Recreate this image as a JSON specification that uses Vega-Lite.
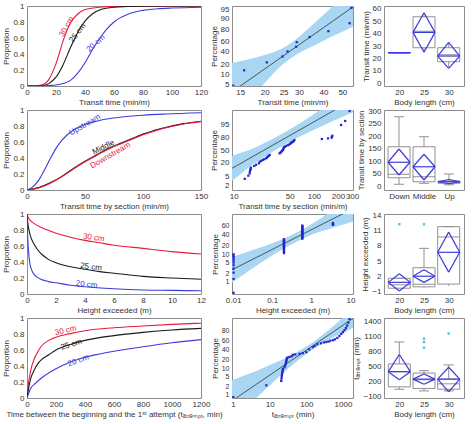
{
"$schema":"https://vega.github.io/schema/vega-lite/v6.json",
"padding":{"left":2,"top":1,"right":0,"bottom":0},
"columns":3,
"spacing":{"row":24,"column":31},
"bounds":"flush",
"config":{
 "font":"Liberation Sans",
 "view":{"stroke":"#8c8c8c","strokeWidth":1},
 "axis":{"grid":false,"domain":false,"ticks":false,"tickCount":20,"labelFontSize":8,"titleFontSize":8,"labelColor":"#333","titleColor":"#333","titleFontWeight":"normal","labelPadding":2,"titlePadding":2,"labelOverlap":false,"labelFlush":false,"labelBound":false},
 "axisX":{"labelPadding":2},
 "axisY":{"labelPadding":3}
},
"datasets":{
 "c1":[
  {"t":0,"p":0,"s":"30 cm"},{"t":5,"p":0.001,"s":"30 cm"},{"t":10,"p":0.012,"s":"30 cm"},{"t":15,"p":0.08,"s":"30 cm"},{"t":20,"p":0.28,"s":"30 cm"},{"t":25,"p":0.57,"s":"30 cm"},{"t":30,"p":0.79,"s":"30 cm"},{"t":35,"p":0.9,"s":"30 cm"},{"t":40,"p":0.955,"s":"30 cm"},{"t":50,"p":0.985,"s":"30 cm"},{"t":60,"p":0.995,"s":"30 cm"},{"t":80,"p":0.999,"s":"30 cm"},{"t":120,"p":1,"s":"30 cm"},
  {"t":0,"p":0,"s":"25 cm"},{"t":10,"p":0.003,"s":"25 cm"},{"t":15,"p":0.03,"s":"25 cm"},{"t":20,"p":0.11,"s":"25 cm"},{"t":25,"p":0.27,"s":"25 cm"},{"t":30,"p":0.48,"s":"25 cm"},{"t":35,"p":0.67,"s":"25 cm"},{"t":40,"p":0.81,"s":"25 cm"},{"t":45,"p":0.9,"s":"25 cm"},{"t":50,"p":0.95,"s":"25 cm"},{"t":60,"p":0.985,"s":"25 cm"},{"t":80,"p":0.998,"s":"25 cm"},{"t":120,"p":1,"s":"25 cm"},
  {"t":0,"p":0,"s":"20 cm"},{"t":10,"p":0.002,"s":"20 cm"},{"t":20,"p":0.012,"s":"20 cm"},{"t":25,"p":0.03,"s":"20 cm"},{"t":30,"p":0.07,"s":"20 cm"},{"t":35,"p":0.16,"s":"20 cm"},{"t":40,"p":0.29,"s":"20 cm"},{"t":45,"p":0.45,"s":"20 cm"},{"t":50,"p":0.59,"s":"20 cm"},{"t":55,"p":0.71,"s":"20 cm"},{"t":60,"p":0.8,"s":"20 cm"},{"t":70,"p":0.9,"s":"20 cm"},{"t":80,"p":0.945,"s":"20 cm"},{"t":90,"p":0.965,"s":"20 cm"},{"t":100,"p":0.975,"s":"20 cm"},{"t":120,"p":0.985,"s":"20 cm"}
 ],
 "l1":[{"t":27.5,"p":0.74,"s":"30 cm"},{"t":35,"p":0.66,"s":"25 cm"},{"t":47.6,"p":0.53,"s":"20 cm"}],
 "c2":[
  {"t":0,"p":0,"s":"Upstream"},{"t":5,"p":0.04,"s":"Upstream"},{"t":10,"p":0.12,"s":"Upstream"},{"t":15,"p":0.25,"s":"Upstream"},{"t":20,"p":0.39,"s":"Upstream"},{"t":25,"p":0.52,"s":"Upstream"},{"t":30,"p":0.62,"s":"Upstream"},{"t":40,"p":0.75,"s":"Upstream"},{"t":50,"p":0.82,"s":"Upstream"},{"t":60,"p":0.86,"s":"Upstream"},{"t":70,"p":0.89,"s":"Upstream"},{"t":80,"p":0.91,"s":"Upstream"},{"t":100,"p":0.935,"s":"Upstream"},{"t":120,"p":0.95,"s":"Upstream"},{"t":150,"p":0.965,"s":"Upstream"},
  {"t":0,"p":0,"s":"Middle"},{"t":10,"p":0.03,"s":"Middle"},{"t":20,"p":0.09,"s":"Middle"},{"t":30,"p":0.17,"s":"Middle"},{"t":40,"p":0.27,"s":"Middle"},{"t":50,"p":0.36,"s":"Middle"},{"t":60,"p":0.44,"s":"Middle"},{"t":70,"p":0.52,"s":"Middle"},{"t":80,"p":0.58,"s":"Middle"},{"t":90,"p":0.64,"s":"Middle"},{"t":100,"p":0.7,"s":"Middle"},{"t":110,"p":0.745,"s":"Middle"},{"t":120,"p":0.785,"s":"Middle"},{"t":135,"p":0.83,"s":"Middle"},{"t":150,"p":0.86,"s":"Middle"},
  {"t":0,"p":0,"s":"Downstream"},{"t":10,"p":0.025,"s":"Downstream"},{"t":20,"p":0.085,"s":"Downstream"},{"t":30,"p":0.165,"s":"Downstream"},{"t":40,"p":0.262,"s":"Downstream"},{"t":50,"p":0.352,"s":"Downstream"},{"t":60,"p":0.432,"s":"Downstream"},{"t":70,"p":0.51,"s":"Downstream"},{"t":80,"p":0.572,"s":"Downstream"},{"t":90,"p":0.632,"s":"Downstream"},{"t":100,"p":0.69,"s":"Downstream"},{"t":110,"p":0.738,"s":"Downstream"},{"t":120,"p":0.778,"s":"Downstream"},{"t":135,"p":0.825,"s":"Downstream"},{"t":150,"p":0.855,"s":"Downstream"}
 ],
 "l2":[{"t":50,"p":0.81,"s":"Upstream"},{"t":66,"p":0.53,"s":"Middle"},{"t":72,"p":0.43,"s":"Downstream"}],
 "c3":[
  {"t":0,"p":1,"s":"30 cm"},{"t":0.1,"p":0.95,"s":"30 cm"},{"t":0.5,"p":0.88,"s":"30 cm"},{"t":1,"p":0.83,"s":"30 cm"},{"t":2,"p":0.76,"s":"30 cm"},{"t":3,"p":0.71,"s":"30 cm"},{"t":4,"p":0.67,"s":"30 cm"},{"t":5,"p":0.64,"s":"30 cm"},{"t":6,"p":0.61,"s":"30 cm"},{"t":8,"p":0.57,"s":"30 cm"},{"t":10,"p":0.53,"s":"30 cm"},{"t":12,"p":0.5,"s":"30 cm"},
  {"t":0,"p":1,"s":"25 cm"},{"t":0.05,"p":0.9,"s":"25 cm"},{"t":0.2,"p":0.75,"s":"25 cm"},{"t":0.5,"p":0.62,"s":"25 cm"},{"t":1,"p":0.5,"s":"25 cm"},{"t":1.5,"p":0.43,"s":"25 cm"},{"t":2,"p":0.39,"s":"25 cm"},{"t":3,"p":0.34,"s":"25 cm"},{"t":4,"p":0.31,"s":"25 cm"},{"t":5,"p":0.28,"s":"25 cm"},{"t":6,"p":0.26,"s":"25 cm"},{"t":8,"p":0.22,"s":"25 cm"},{"t":10,"p":0.2,"s":"25 cm"},{"t":12,"p":0.185,"s":"25 cm"},
  {"t":0,"p":1,"s":"20 cm"},{"t":0.03,"p":0.8,"s":"20 cm"},{"t":0.1,"p":0.55,"s":"20 cm"},{"t":0.2,"p":0.38,"s":"20 cm"},{"t":0.4,"p":0.27,"s":"20 cm"},{"t":0.7,"p":0.21,"s":"20 cm"},{"t":1,"p":0.18,"s":"20 cm"},{"t":1.5,"p":0.155,"s":"20 cm"},{"t":2,"p":0.14,"s":"20 cm"},{"t":3,"p":0.11,"s":"20 cm"},{"t":4,"p":0.09,"s":"20 cm"},{"t":6,"p":0.065,"s":"20 cm"},{"t":8,"p":0.05,"s":"20 cm"},{"t":10,"p":0.045,"s":"20 cm"},{"t":12,"p":0.04,"s":"20 cm"}
 ],
 "l3":[{"t":4.6,"p":0.7,"s":"30 cm"},{"t":4.41,"p":0.335,"s":"25 cm"},{"t":4.11,"p":0.116,"s":"20 cm"}],
 "c4":[
  {"t":0,"p":0,"s":"30 cm"},{"t":10,"p":0.18,"s":"30 cm"},{"t":25,"p":0.34,"s":"30 cm"},{"t":50,"p":0.49,"s":"30 cm"},{"t":75,"p":0.58,"s":"30 cm"},{"t":100,"p":0.65,"s":"30 cm"},{"t":150,"p":0.72,"s":"30 cm"},{"t":200,"p":0.76,"s":"30 cm"},{"t":300,"p":0.805,"s":"30 cm"},{"t":400,"p":0.84,"s":"30 cm"},{"t":600,"p":0.878,"s":"30 cm"},{"t":800,"p":0.9,"s":"30 cm"},{"t":1000,"p":0.92,"s":"30 cm"},{"t":1200,"p":0.935,"s":"30 cm"},
  {"t":0,"p":0,"s":"25 cm"},{"t":10,"p":0.11,"s":"25 cm"},{"t":25,"p":0.24,"s":"25 cm"},{"t":50,"p":0.35,"s":"25 cm"},{"t":75,"p":0.43,"s":"25 cm"},{"t":100,"p":0.48,"s":"25 cm"},{"t":150,"p":0.54,"s":"25 cm"},{"t":200,"p":0.6,"s":"25 cm"},{"t":300,"p":0.67,"s":"25 cm"},{"t":400,"p":0.72,"s":"25 cm"},{"t":600,"p":0.78,"s":"25 cm"},{"t":800,"p":0.82,"s":"25 cm"},{"t":1000,"p":0.85,"s":"25 cm"},{"t":1200,"p":0.87,"s":"25 cm"},
  {"t":0,"p":0,"s":"20 cm"},{"t":10,"p":0.05,"s":"20 cm"},{"t":25,"p":0.12,"s":"20 cm"},{"t":50,"p":0.17,"s":"20 cm"},{"t":100,"p":0.25,"s":"20 cm"},{"t":200,"p":0.365,"s":"20 cm"},{"t":300,"p":0.45,"s":"20 cm"},{"t":400,"p":0.51,"s":"20 cm"},{"t":500,"p":0.55,"s":"20 cm"},{"t":600,"p":0.585,"s":"20 cm"},{"t":800,"p":0.64,"s":"20 cm"},{"t":1000,"p":0.69,"s":"20 cm"},{"t":1200,"p":0.73,"s":"20 cm"}
 ],
 "l4":[{"t":267,"p":0.84,"s":"30 cm"},{"t":306,"p":0.665,"s":"25 cm"},{"t":354,"p":0.464,"s":"20 cm"}],
 "band1":[{"x":13.6,"lo":0.3,"hi":21.9},{"x":15,"lo":0.65,"hi":24.4},{"x":17,"lo":1.71,"hi":27.9},{"x":20,"lo":5.5,"hi":34.5},{"x":23,"lo":13.7,"hi":41.6},{"x":26,"lo":24.6,"hi":52},{"x":29,"lo":34.8,"hi":64.8},{"x":33,"lo":46,"hi":79.3},{"x":38,"lo":57.4,"hi":90},{"x":44,"lo":68.6,"hi":95.6},{"x":50,"lo":76.5,"hi":98},{"x":56.7,"lo":82.8,"hi":99.07}],
 "fit1":[{"x":13.6,"p":2.82},{"x":56.7,"p":95.8}],
 "pts1":[{"x":13.8,"p":4.5},{"x":15.7,"p":13.6},{"x":20.5,"p":22.7},{"x":24.7,"p":31.8},{"x":26.2,"p":40.9},{"x":29.0,"p":50},{"x":29.2,"p":59.1},{"x":34.0,"p":68.2},{"x":42.4,"p":77.3},{"x":54.5,"p":86.4},{"x":55.6,"p":95.5}],
 "band2":[{"x":9.5,"lo":3.2,"hi":35},{"x":12,"lo":6.3,"hi":42.6},{"x":15,"lo":11.8,"hi":49.7},{"x":20,"lo":22.6,"hi":61.5},{"x":30,"lo":45,"hi":77.6},{"x":45,"lo":67.3,"hi":89.3},{"x":70,"lo":83.8,"hi":95.9},{"x":110,"lo":92.3,"hi":98.65},{"x":170,"lo":96.3,"hi":99.57},{"x":250,"lo":98.04,"hi":99.85},{"x":308,"lo":98.62,"hi":99.915}],
 "fit2":[{"x":9.5,"p":11.7},{"x":308,"p":99.66}],
 "pts2":[{"x":13.7,"p":3.9},{"x":15.2,"p":5.5},{"x":15.8,"p":7},{"x":15.9,"p":8.5},{"x":16.1,"p":9.9},{"x":16.2,"p":11.2},{"x":16.4,"p":12.5},{"x":18,"p":14.7},{"x":19,"p":16.5},{"x":20.6,"p":18.9},{"x":21.1,"p":21.8},{"x":22,"p":23.5},{"x":23,"p":25.2},{"x":24,"p":27},{"x":25.3,"p":28.9},{"x":26,"p":31},{"x":26.6,"p":32.8},{"x":27.3,"p":35},{"x":28.1,"p":37.1},{"x":37.3,"p":41.6},{"x":38.2,"p":43.5},{"x":39.2,"p":46},{"x":40,"p":48.5},{"x":41,"p":50.8},{"x":41.5,"p":53},{"x":42,"p":57.2},{"x":42.6,"p":58.5},{"x":43.2,"p":59.9},{"x":45,"p":62},{"x":47.5,"p":64},{"x":49.6,"p":66.1},{"x":50.8,"p":68},{"x":52,"p":70},{"x":53.3,"p":71.2},{"x":54.7,"p":72.4},{"x":56,"p":74},{"x":57.2,"p":76},{"x":125.8,"p":78},{"x":150,"p":79.2},{"x":167,"p":80.4},{"x":168,"p":82},{"x":170,"p":83.7},{"x":219,"p":94.5},{"x":246,"p":96.4},{"x":279,"p":98.8}],
 "band3":[{"x":0.0094,"lo":0.88,"hi":8.1},{"x":0.02,"lo":1.89,"hi":11.4},{"x":0.05,"lo":4.8,"hi":16.9},{"x":0.1,"lo":9,"hi":23},{"x":0.2,"lo":15.7,"hi":31.4},{"x":0.4,"lo":24.6,"hi":43},{"x":0.8,"lo":35.2,"hi":57.2},{"x":1.5,"lo":44.3,"hi":70.5},{"x":3,"lo":52.5,"hi":83.2},{"x":6,"lo":60.6,"hi":91.1},{"x":11.6,"lo":67.7,"hi":95.4}],
 "fit3":[{"x":0.0094,"p":2.71},{"x":11.6,"p":86.9}],
 "pts3":[{"x":0.0103,"p":0.35},{"x":0.0103,"p":1.2},{"x":0.0103,"p":2.1},{"x":0.0103,"p":3},{"x":0.0103,"p":4},{"x":0.0103,"p":5},{"x":0.0103,"p":6},{"x":0.0103,"p":7},{"x":0.0103,"p":8},{"x":0.0103,"p":9},{"x":0.0103,"p":10},
  {"x":0.2,"p":11},{"x":0.2,"p":12},{"x":0.2,"p":13},{"x":0.2,"p":14},{"x":0.2,"p":15},{"x":0.2,"p":16},{"x":0.2,"p":17},{"x":0.2,"p":18},{"x":0.2,"p":19},{"x":0.2,"p":20},{"x":0.2,"p":21},{"x":0.2,"p":22},{"x":0.2,"p":23},{"x":0.2,"p":24},{"x":0.2,"p":25},{"x":0.2,"p":26},{"x":0.2,"p":27},{"x":0.2,"p":28},{"x":0.2,"p":29},{"x":0.2,"p":30},
  {"x":0.587,"p":31},{"x":0.587,"p":32.5},{"x":0.587,"p":34},{"x":0.587,"p":35.5},{"x":0.587,"p":37},{"x":0.587,"p":38.5},{"x":0.587,"p":40},{"x":0.587,"p":41.5},{"x":0.587,"p":43},{"x":0.587,"p":44.5},{"x":0.587,"p":46},{"x":0.587,"p":47.5},{"x":0.587,"p":49},{"x":0.587,"p":50.5},{"x":0.587,"p":52},{"x":0.587,"p":53.5},{"x":0.587,"p":55},{"x":0.587,"p":56.5},{"x":0.587,"p":58},{"x":0.587,"p":59.5},
  {"x":3.57,"p":61},{"x":3.57,"p":62},{"x":3.57,"p":63},{"x":3.57,"p":64},{"x":3.57,"p":65}],
 "band4":[{"x":0.94,"lo":0.08,"hi":3.6},{"x":2,"lo":0.24,"hi":5.5},{"x":5,"lo":0.89,"hi":9},{"x":10,"lo":2.28,"hi":13.5},{"x":20,"lo":5.7,"hi":19.6},{"x":50,"lo":16.4,"hi":32.5},{"x":100,"lo":30.4,"hi":46.8},{"x":200,"lo":46.8,"hi":63.9},{"x":500,"lo":65.7,"hi":83.9},{"x":1000,"lo":75.9,"hi":92.8},{"x":1874,"lo":83.1,"hi":96.7}],
 "fit4":[{"x":0.94,"p":0.55},{"x":1874,"p":92.3}],
 "pts4":[{"x":1.02,"p":0.78},{"x":8.1,"p":2.3},{"x":20.7,"p":3.4},{"x":21,"p":4.2},{"x":21.3,"p":5},{"x":21.6,"p":5.8},{"x":22,"p":6.7},{"x":22.3,"p":7.6},{"x":22.6,"p":8.6},{"x":23,"p":9.8},{"x":25.5,"p":11.2},{"x":26.5,"p":13},{"x":27.5,"p":15},{"x":28,"p":16.8},{"x":28.5,"p":18.5},{"x":29,"p":20.5},{"x":29.5,"p":22.6},{"x":31,"p":24},{"x":35,"p":25},{"x":40,"p":26.1},{"x":43,"p":28.9},{"x":50,"p":29.5},{"x":65.5,"p":30.8},{"x":80,"p":32},{"x":99.5,"p":34},{"x":120,"p":40},{"x":150,"p":45},{"x":170,"p":48},{"x":200,"p":52},{"x":250,"p":54},{"x":300,"p":56},{"x":350,"p":57},{"x":400,"p":58},{"x":450,"p":60},{"x":530,"p":61},{"x":600,"p":63},{"x":700,"p":66},{"x":800,"p":70},{"x":900,"p":74},{"x":1000,"p":77},{"x":1100,"p":80},{"x":1200,"p":83},{"x":1300,"p":86},{"x":1400,"p":89},{"x":1500,"p":92}],
 "b1":[{"g":20,"q1":24.7,"med":24.7,"q3":24.7,"wlo":24.7,"whi":24.7,"mean":24.7,"cil":24.7,"ciu":24.7},{"g":25,"q1":28.7,"med":42,"q3":53.7,"wlo":26,"whi":55,"mean":41.1,"cil":25,"ciu":57},{"g":30,"q1":17.4,"med":23,"q3":28.7,"wlo":13,"whi":33,"mean":22,"cil":12,"ciu":33}],
 "b2":[{"g":1,"q1":33,"med":47,"q3":157,"wlo":7,"whi":277,"mean":95,"cil":44,"ciu":148},{"g":2,"q1":17,"med":37,"q3":157,"wlo":11,"whi":197,"mean":77,"cil":24,"ciu":127},{"g":3,"q1":11,"med":17,"q3":20,"wlo":5,"whi":48,"mean":17,"cil":9,"ciu":26}],
 "b3":[{"g":20,"q1":-0.27,"med":0.4,"q3":1.67,"wlo":-0.3,"whi":1.67,"mean":0.87,"cil":-0.8,"ciu":2.53},{"g":25,"q1":0,"med":0.5,"q3":3.73,"wlo":-0.1,"whi":7.5,"mean":2.07,"cil":0.87,"ciu":3.33},{"g":30,"q1":0.53,"med":9.73,"q3":11.73,"wlo":0.2,"whi":11.73,"mean":6.73,"cil":2.87,"ciu":10.67}],
 "o3":[{"g":20,"v":12.2},{"g":25,"v":12.2}],
 "b4":[{"g":20,"q1":100,"med":400,"q3":553,"wlo":53,"whi":987,"mean":400,"cil":240,"ciu":740},{"g":25,"q1":67,"med":240,"q3":373,"wlo":20,"whi":420,"mean":253,"cil":153,"ciu":353},{"g":30,"q1":53,"med":160,"q3":253,"wlo":20,"whi":533,"mean":253,"cil":0,"ciu":487}],
 "o4":[{"g":25,"v":1053},{"g":25,"v":987},{"g":25,"v":873},{"g":30,"v":1153}]
},
"concat":[
 {"width":174,"height":80,"layer":[
  {"data":{"name":"c1"},"mark":{"type":"line","strokeWidth":1.1,"interpolate":"monotone","clip":true},"encoding":{
   "x":{"field":"t","type":"quantitative","scale":{"domain":[0,120],"nice":false,"zero":false},"axis":{"values":[0,20,40,60,80,100,120],"tickCount":20,"format":"d","title":"Transit time (min/m)"}},
   "y":{"field":"p","type":"quantitative","scale":{"domain":[0,1],"nice":false},"axis":{"values":[0,0.2,0.4,0.6,0.8,1],"tickCount":20,"format":"~g","title":"Proportion"}},
   "color":{"field":"s","type":"nominal","scale":{"domain":["20 cm","25 cm","30 cm"],"range":["#3b3bdc","#1a1a1a","#e8193c"]},"legend":null}}},
  {"data":{"name":"l1"},"transform":[{"filter":"datum.s=='30 cm'"}],"mark":{"type":"text","angle":300,"fontSize":8,"color":"#e8193c"},"encoding":{"x":{"field":"t","type":"quantitative"},"y":{"field":"p","type":"quantitative"},"text":{"field":"s"}}},
  {"data":{"name":"l1"},"transform":[{"filter":"datum.s=='25 cm'"}],"mark":{"type":"text","angle":307,"fontSize":8,"color":"#1a1a1a"},"encoding":{"x":{"field":"t","type":"quantitative"},"y":{"field":"p","type":"quantitative"},"text":{"field":"s"}}},
  {"data":{"name":"l1"},"transform":[{"filter":"datum.s=='20 cm'"}],"mark":{"type":"text","angle":318,"fontSize":8,"color":"#3b3bdc"},"encoding":{"x":{"field":"t","type":"quantitative"},"y":{"field":"p","type":"quantitative"},"text":{"field":"s"}}}
 ]},
 {"width":121,"height":80,"layer":[
  {"data":{"name":"band1"},"transform":[{"calculate":"log(datum.lo/(100-datum.lo))","as":"vlo"},{"calculate":"log(datum.hi/(100-datum.hi))","as":"vhi"}],"mark":{"type":"area","color":"#a9d7f3","opacity":1,"clip":true,"interpolate":"monotone"},"encoding":{
   "x":{"field":"x","type":"quantitative","scale":{"type":"log","domain":[13.6,56.7],"nice":false},"axis":{"values":[15,20,25,30,40,50],"tickCount":20,"title":"Transit time (min/m)"}},
   "y":{"field":"vlo","type":"quantitative","scale":{"domain":[-3.08,3.2],"nice":false,"zero":false},"axis":{"values":[-2.9444,-2.1972,-1.3863,-0.4055,0.4055,1.3863,2.1972,2.9444],"tickCount":20,"labelExpr":"round(100/(1+exp(-datum.value)))","title":"Percentage"}},
   "y2":{"field":"vhi"}}},
  {"data":{"name":"fit1"},"transform":[{"calculate":"log(datum.p/(100-datum.p))","as":"v"}],"mark":{"type":"line","color":"#333","strokeWidth":0.8,"clip":true},"encoding":{"x":{"field":"x","type":"quantitative"},"y":{"field":"v","type":"quantitative"}}},
  {"data":{"name":"pts1"},"transform":[{"calculate":"log(datum.p/(100-datum.p))","as":"v"}],"mark":{"type":"square","size":5,"color":"#2424d0","opacity":1,"clip":true},"encoding":{"x":{"field":"x","type":"quantitative"},"y":{"field":"v","type":"quantitative"}}}
 ]},
 {"width":80,"height":80,"data":{"name":"b1"},
  "encoding":{"x":{"field":"g","type":"quantitative","scale":{"domain":[16.9,33.1],"nice":false,"zero":false},"axis":{"values":[20,25,30],"tickCount":20,"title":"Body length (cm)"}}},
  "layer":[
  {"mark":{"type":"rect","filled":false,"color":"#909090","strokeWidth":1,"xOffset":-11,"x2Offset":11},"encoding":{"x2":{"field":"g"},"y":{"field":"q1","type":"quantitative","scale":{"domain":[-2.2,62.4],"nice":false,"zero":false},"axis":{"values":[0,10,20,30,40,50,60],"tickCount":20,"title":"Transit time (min/m)"}},"y2":{"field":"q3"}}},
  {"mark":{"type":"rule","color":"#909090"},"encoding":{"y":{"field":"q3","type":"quantitative"},"y2":{"field":"whi"}}},
  {"mark":{"type":"rule","color":"#909090"},"encoding":{"y":{"field":"wlo","type":"quantitative"},"y2":{"field":"q1"}}},
  {"mark":{"type":"rule","color":"#909090","xOffset":-11,"x2Offset":11},"encoding":{"x2":{"field":"g"},"y":{"field":"med","type":"quantitative"}}},
  {"mark":{"type":"rule","color":"#3b3bdc","strokeWidth":1.2,"xOffset":-11},"encoding":{"y":{"field":"mean","type":"quantitative"},"x2":{"field":"g"},"y2":{"field":"ciu"}}},
  {"mark":{"type":"rule","color":"#3b3bdc","strokeWidth":1.2,"x2Offset":11},"encoding":{"y":{"field":"ciu","type":"quantitative"},"x2":{"field":"g"},"y2":{"field":"mean"}}},
  {"mark":{"type":"rule","color":"#3b3bdc","strokeWidth":1.2,"xOffset":11},"encoding":{"y":{"field":"mean","type":"quantitative"},"x2":{"field":"g"},"y2":{"field":"cil"}}},
  {"mark":{"type":"rule","color":"#3b3bdc","strokeWidth":1.2,"x2Offset":-11},"encoding":{"y":{"field":"cil","type":"quantitative"},"x2":{"field":"g"},"y2":{"field":"mean"}}},
  {"mark":{"type":"rule","color":"#3b3bdc","strokeWidth":1.2,"xOffset":-11,"x2Offset":11},"encoding":{"x2":{"field":"g"},"y":{"field":"mean","type":"quantitative"}}}
 ]},
 {"width":174,"height":80,"layer":[
  {"data":{"name":"c2"},"mark":{"type":"line","strokeWidth":1.1,"interpolate":"monotone","clip":true},"encoding":{
   "x":{"field":"t","type":"quantitative","scale":{"domain":[0,150],"nice":false,"zero":false},"axis":{"values":[0,50,100,150],"tickCount":20,"format":"d","title":"Transit time by section (min/m)"}},
   "y":{"field":"p","type":"quantitative","scale":{"domain":[0,1],"nice":false},"axis":{"values":[0,0.2,0.4,0.6,0.8,1],"tickCount":20,"format":"~g","title":"Proportion"}},
   "color":{"field":"s","type":"nominal","scale":{"domain":["Upstream","Middle","Downstream"],"range":["#3b3bdc","#1a1a1a","#e8193c"]},"legend":null}}},
  {"data":{"name":"l2"},"transform":[{"filter":"datum.s=='Upstream'"}],"mark":{"type":"text","angle":330,"fontSize":8,"color":"#3b3bdc"},"encoding":{"x":{"field":"t","type":"quantitative"},"y":{"field":"p","type":"quantitative"},"text":{"field":"s"}}},
  {"data":{"name":"l2"},"transform":[{"filter":"datum.s=='Middle'"}],"mark":{"type":"text","angle":333,"fontSize":8,"color":"#1a1a1a"},"encoding":{"x":{"field":"t","type":"quantitative"},"y":{"field":"p","type":"quantitative"},"text":{"field":"s"}}},
  {"data":{"name":"l2"},"transform":[{"filter":"datum.s=='Downstream'"}],"mark":{"type":"text","angle":330,"fontSize":8,"color":"#e8193c"},"encoding":{"x":{"field":"t","type":"quantitative"},"y":{"field":"p","type":"quantitative"},"text":{"field":"s"}}}
 ]},
 {"width":121,"height":80,"layer":[
  {"data":{"name":"band2"},"transform":[{"calculate":"log(datum.lo/(100-datum.lo))","as":"vlo"},{"calculate":"log(datum.hi/(100-datum.hi))","as":"vhi"}],"mark":{"type":"area","color":"#a9d7f3","opacity":1,"clip":true,"interpolate":"monotone"},"encoding":{
   "x":{"field":"x","type":"quantitative","scale":{"type":"log","domain":[9.5,308],"nice":false},"axis":{"values":[10,50,100,200,300],"tickCount":20,"title":"Transit time by section (min/m)"}},
   "y":{"field":"vlo","type":"quantitative","scale":{"domain":[-4.45,4.52],"nice":false,"zero":false},"axis":{"values":[-3.8918,-2.9444,-1.3863,0,1.3863,2.9444],"tickCount":20,"labelExpr":"round(100/(1+exp(-datum.value)))","title":"Percentage"}},
   "y2":{"field":"vhi"}}},
  {"data":{"name":"fit2"},"transform":[{"calculate":"log(datum.p/(100-datum.p))","as":"v"}],"mark":{"type":"line","color":"#333","strokeWidth":0.8,"clip":true},"encoding":{"x":{"field":"x","type":"quantitative"},"y":{"field":"v","type":"quantitative"}}},
  {"data":{"name":"pts2"},"transform":[{"calculate":"log(datum.p/(100-datum.p))","as":"v"}],"mark":{"type":"square","size":5,"color":"#2424d0","opacity":1,"clip":true},"encoding":{"x":{"field":"x","type":"quantitative"},"y":{"field":"v","type":"quantitative"}}}
 ]},
 {"width":80,"height":80,"data":{"name":"b2"},
  "encoding":{"x":{"field":"g","type":"quantitative","scale":{"domain":[0.4,3.6],"nice":false,"zero":false},"axis":{"values":[1,2,3],"tickCount":20,"labelExpr":"datum.value==1?'Down':datum.value==2?'Middle':'Up'","title":null}}},
  "layer":[
  {"mark":{"type":"rect","filled":false,"color":"#909090","strokeWidth":1,"xOffset":-11,"x2Offset":11},"encoding":{"x2":{"field":"g"},"y":{"field":"q1","type":"quantitative","scale":{"domain":[-16,304],"nice":false,"zero":false},"axis":{"values":[0,50,100,150,200,250,300],"tickCount":20,"title":"Transit time by section"}},"y2":{"field":"q3"}}},
  {"mark":{"type":"rule","color":"#909090"},"encoding":{"y":{"field":"q3","type":"quantitative"},"y2":{"field":"whi"}}},
  {"mark":{"type":"rule","color":"#909090"},"encoding":{"y":{"field":"wlo","type":"quantitative"},"y2":{"field":"q1"}}},
  {"mark":{"type":"rule","color":"#909090","xOffset":-5,"x2Offset":5},"encoding":{"x2":{"field":"g"},"y":{"field":"whi","type":"quantitative"}}},
  {"mark":{"type":"rule","color":"#909090","xOffset":-5,"x2Offset":5},"encoding":{"x2":{"field":"g"},"y":{"field":"wlo","type":"quantitative"}}},
  {"mark":{"type":"rule","color":"#909090","xOffset":-11,"x2Offset":11},"encoding":{"x2":{"field":"g"},"y":{"field":"med","type":"quantitative"}}},
  {"mark":{"type":"rule","color":"#3b3bdc","strokeWidth":1.2,"xOffset":-11},"encoding":{"y":{"field":"mean","type":"quantitative"},"x2":{"field":"g"},"y2":{"field":"ciu"}}},
  {"mark":{"type":"rule","color":"#3b3bdc","strokeWidth":1.2,"x2Offset":11},"encoding":{"y":{"field":"ciu","type":"quantitative"},"x2":{"field":"g"},"y2":{"field":"mean"}}},
  {"mark":{"type":"rule","color":"#3b3bdc","strokeWidth":1.2,"xOffset":11},"encoding":{"y":{"field":"mean","type":"quantitative"},"x2":{"field":"g"},"y2":{"field":"cil"}}},
  {"mark":{"type":"rule","color":"#3b3bdc","strokeWidth":1.2,"x2Offset":-11},"encoding":{"y":{"field":"cil","type":"quantitative"},"x2":{"field":"g"},"y2":{"field":"mean"}}},
  {"mark":{"type":"rule","color":"#3b3bdc","strokeWidth":1.2,"xOffset":-11,"x2Offset":11},"encoding":{"x2":{"field":"g"},"y":{"field":"mean","type":"quantitative"}}}
 ]},
 {"width":174,"height":80,"layer":[
  {"data":{"name":"c3"},"mark":{"type":"line","strokeWidth":1.1,"interpolate":"monotone","clip":true},"encoding":{
   "x":{"field":"t","type":"quantitative","scale":{"domain":[0,12],"nice":false,"zero":false},"axis":{"values":[0,2,4,6,8,10,12],"tickCount":20,"format":"d","title":"Height exceeded (m)"}},
   "y":{"field":"p","type":"quantitative","scale":{"domain":[0,1],"nice":false},"axis":{"values":[0,0.2,0.4,0.6,0.8,1],"tickCount":20,"format":"~g","title":"Proportion"}},
   "color":{"field":"s","type":"nominal","scale":{"domain":["20 cm","25 cm","30 cm"],"range":["#3b3bdc","#1a1a1a","#e8193c"]},"legend":null}}},
  {"data":{"name":"l3"},"transform":[{"filter":"datum.s=='30 cm'"}],"mark":{"type":"text","angle":8,"fontSize":8,"color":"#e8193c"},"encoding":{"x":{"field":"t","type":"quantitative"},"y":{"field":"p","type":"quantitative"},"text":{"field":"s"}}},
  {"data":{"name":"l3"},"transform":[{"filter":"datum.s=='25 cm'"}],"mark":{"type":"text","angle":7,"fontSize":8,"color":"#1a1a1a"},"encoding":{"x":{"field":"t","type":"quantitative"},"y":{"field":"p","type":"quantitative"},"text":{"field":"s"}}},
  {"data":{"name":"l3"},"transform":[{"filter":"datum.s=='20 cm'"}],"mark":{"type":"text","angle":6,"fontSize":8,"color":"#3b3bdc"},"encoding":{"x":{"field":"t","type":"quantitative"},"y":{"field":"p","type":"quantitative"},"text":{"field":"s"}}}
 ]},
 {"width":121,"height":80,"layer":[
  {"data":{"name":"band3"},"transform":[{"calculate":"log(datum.lo/(100-datum.lo))","as":"vlo"},{"calculate":"log(datum.hi/(100-datum.hi))","as":"vhi"}],"mark":{"type":"area","color":"#a9d7f3","opacity":1,"clip":true,"interpolate":"monotone"},"encoding":{
   "x":{"field":"x","type":"quantitative","scale":{"type":"log","domain":[0.0094,11.6],"nice":false},"axis":{"values":[0.01,0.1,1,10],"tickCount":20,"format":"~g","title":"Height exceeded (m)"}},
   "y":{"field":"vlo","type":"quantitative","scale":{"domain":[-5.76,1.42],"nice":false,"zero":false},"axis":{"values":[-4.5951,-3.8918,-2.9444,-2.1972,-1.3863,-0.4055,0.4055],"tickCount":20,"labelFontSize":7,"labelExpr":"round(100/(1+exp(-datum.value)))","title":"Percentage"}},
   "y2":{"field":"vhi"}}},
  {"data":{"name":"fit3"},"transform":[{"calculate":"log(datum.p/(100-datum.p))","as":"v"}],"mark":{"type":"line","color":"#333","strokeWidth":0.8,"clip":true},"encoding":{"x":{"field":"x","type":"quantitative"},"y":{"field":"v","type":"quantitative"}}},
  {"data":{"name":"pts3"},"transform":[{"calculate":"log(datum.p/(100-datum.p))","as":"v"}],"mark":{"type":"square","size":5,"color":"#2424d0","opacity":1,"clip":true},"encoding":{"x":{"field":"x","type":"quantitative"},"y":{"field":"v","type":"quantitative"}}}
 ]},
 {"width":80,"height":80,"data":{"name":"b3"},
  "encoding":{"x":{"field":"g","type":"quantitative","scale":{"domain":[16.9,33.1],"nice":false,"zero":false},"axis":{"values":[20,25,30],"tickCount":20,"title":"Body length (cm)"}}},
  "layer":[
  {"mark":{"type":"rect","filled":false,"color":"#909090","strokeWidth":1,"xOffset":-11,"x2Offset":11},"encoding":{"x2":{"field":"g"},"y":{"field":"q1","type":"quantitative","scale":{"domain":[-1.4,14.2],"nice":false,"zero":false},"axis":{"values":[-1,2,5,8,11,14],"tickCount":20,"title":"Height exceeded (m)"}},"y2":{"field":"q3"}}},
  {"mark":{"type":"rule","color":"#909090"},"encoding":{"y":{"field":"q3","type":"quantitative"},"y2":{"field":"whi"}}},
  {"mark":{"type":"rule","color":"#909090"},"encoding":{"y":{"field":"wlo","type":"quantitative"},"y2":{"field":"q1"}}},
  {"mark":{"type":"rule","color":"#909090","xOffset":-5,"x2Offset":5},"encoding":{"x2":{"field":"g"},"y":{"field":"whi","type":"quantitative"}}},
  {"mark":{"type":"rule","color":"#909090","xOffset":-11,"x2Offset":11},"encoding":{"x2":{"field":"g"},"y":{"field":"med","type":"quantitative"}}},
  {"mark":{"type":"rule","color":"#3b3bdc","strokeWidth":1.2,"xOffset":-11},"encoding":{"y":{"field":"mean","type":"quantitative"},"x2":{"field":"g"},"y2":{"field":"ciu"}}},
  {"mark":{"type":"rule","color":"#3b3bdc","strokeWidth":1.2,"x2Offset":11},"encoding":{"y":{"field":"ciu","type":"quantitative"},"x2":{"field":"g"},"y2":{"field":"mean"}}},
  {"mark":{"type":"rule","color":"#3b3bdc","strokeWidth":1.2,"xOffset":11},"encoding":{"y":{"field":"mean","type":"quantitative"},"x2":{"field":"g"},"y2":{"field":"cil"}}},
  {"mark":{"type":"rule","color":"#3b3bdc","strokeWidth":1.2,"x2Offset":-11},"encoding":{"y":{"field":"cil","type":"quantitative"},"x2":{"field":"g"},"y2":{"field":"mean"}}},
  {"mark":{"type":"rule","color":"#3b3bdc","strokeWidth":1.2,"xOffset":-11,"x2Offset":11},"encoding":{"x2":{"field":"g"},"y":{"field":"mean","type":"quantitative"}}},
  {"data":{"name":"o3"},"mark":{"type":"square","size":6,"color":"#5cc3e8","opacity":1},"encoding":{"y":{"field":"v","type":"quantitative"}}}
 ]},
 {"width":174,"height":80,"layer":[
  {"data":{"name":"c4"},"mark":{"type":"line","strokeWidth":1.1,"interpolate":"monotone","clip":true},"encoding":{
   "x":{"field":"t","type":"quantitative","scale":{"domain":[0,1200],"nice":false,"zero":false},"axis":{"values":[0,200,400,600,800,1000,1200],"tickCount":20,"format":"d","title":"Time between the beginning and the 1ˢᵗ attempt (tₐₜₜₑₘₚₜ, min)"}},
   "y":{"field":"p","type":"quantitative","scale":{"domain":[0,1],"nice":false},"axis":{"values":[0,0.2,0.4,0.6,0.8,1],"tickCount":20,"format":"~g","title":"Proportion"}},
   "color":{"field":"s","type":"nominal","scale":{"domain":["20 cm","25 cm","30 cm"],"range":["#3b3bdc","#1a1a1a","#e8193c"]},"legend":null}}},
  {"data":{"name":"l4"},"transform":[{"filter":"datum.s=='30 cm'"}],"mark":{"type":"text","angle":347,"fontSize":8,"color":"#e8193c"},"encoding":{"x":{"field":"t","type":"quantitative"},"y":{"field":"p","type":"quantitative"},"text":{"field":"s"}}},
  {"data":{"name":"l4"},"transform":[{"filter":"datum.s=='25 cm'"}],"mark":{"type":"text","angle":342,"fontSize":8,"color":"#1a1a1a"},"encoding":{"x":{"field":"t","type":"quantitative"},"y":{"field":"p","type":"quantitative"},"text":{"field":"s"}}},
  {"data":{"name":"l4"},"transform":[{"filter":"datum.s=='20 cm'"}],"mark":{"type":"text","angle":340,"fontSize":8,"color":"#3b3bdc"},"encoding":{"x":{"field":"t","type":"quantitative"},"y":{"field":"p","type":"quantitative"},"text":{"field":"s"}}}
 ]},
 {"width":121,"height":80,"layer":[
  {"data":{"name":"band4"},"transform":[{"calculate":"log(datum.lo/(100-datum.lo))","as":"vlo"},{"calculate":"log(datum.hi/(100-datum.hi))","as":"vhi"}],"mark":{"type":"area","color":"#a9d7f3","opacity":1,"clip":true,"interpolate":"monotone"},"encoding":{
   "x":{"field":"x","type":"quantitative","scale":{"type":"log","domain":[0.94,1874],"nice":false},"axis":{"values":[1,10,100,1000],"tickCount":20,"format":"d","title":"tₐₜₜₑₘₚₜ (min)"}},
   "y":{"field":"vlo","type":"quantitative","scale":{"domain":[-4.93,2.52],"nice":false,"zero":false},"axis":{"values":[-4.5951,-3.8918,-2.9444,-2.1972,-1.3863,-0.4055,0.4055,1.3863],"tickCount":20,"labelFontSize":7,"labelExpr":"round(100/(1+exp(-datum.value)))","title":"Percentage"}},
   "y2":{"field":"vhi"}}},
  {"data":{"name":"fit4"},"transform":[{"calculate":"log(datum.p/(100-datum.p))","as":"v"}],"mark":{"type":"line","color":"#333","strokeWidth":0.8,"clip":true},"encoding":{"x":{"field":"x","type":"quantitative"},"y":{"field":"v","type":"quantitative"}}},
  {"data":{"name":"pts4"},"transform":[{"calculate":"log(datum.p/(100-datum.p))","as":"v"}],"mark":{"type":"square","size":5,"color":"#2424d0","opacity":1,"clip":true},"encoding":{"x":{"field":"x","type":"quantitative"},"y":{"field":"v","type":"quantitative"}}}
 ]},
 {"width":80,"height":80,"data":{"name":"b4"},
  "encoding":{"x":{"field":"g","type":"quantitative","scale":{"domain":[16.9,33.1],"nice":false,"zero":false},"axis":{"values":[20,25,30],"tickCount":20,"title":"Body length (cm)"}}},
  "layer":[
  {"mark":{"type":"rect","filled":false,"color":"#909090","strokeWidth":1,"xOffset":-11,"x2Offset":11},"encoding":{"x2":{"field":"g"},"y":{"field":"q1","type":"quantitative","scale":{"domain":[-120,1460],"nice":false,"zero":false},"axis":{"values":[-100,200,500,800,1100,1400],"tickCount":20,"format":"d","title":"tₐₜₜₑₘₚₜ (min)"}},"y2":{"field":"q3"}}},
  {"mark":{"type":"rule","color":"#909090"},"encoding":{"y":{"field":"q3","type":"quantitative"},"y2":{"field":"whi"}}},
  {"mark":{"type":"rule","color":"#909090"},"encoding":{"y":{"field":"wlo","type":"quantitative"},"y2":{"field":"q1"}}},
  {"mark":{"type":"rule","color":"#909090","xOffset":-5,"x2Offset":5},"encoding":{"x2":{"field":"g"},"y":{"field":"whi","type":"quantitative"}}},
  {"mark":{"type":"rule","color":"#909090","xOffset":-5,"x2Offset":5},"encoding":{"x2":{"field":"g"},"y":{"field":"wlo","type":"quantitative"}}},
  {"mark":{"type":"rule","color":"#909090","xOffset":-11,"x2Offset":11},"encoding":{"x2":{"field":"g"},"y":{"field":"med","type":"quantitative"}}},
  {"mark":{"type":"rule","color":"#3b3bdc","strokeWidth":1.2,"xOffset":-11},"encoding":{"y":{"field":"mean","type":"quantitative"},"x2":{"field":"g"},"y2":{"field":"ciu"}}},
  {"mark":{"type":"rule","color":"#3b3bdc","strokeWidth":1.2,"x2Offset":11},"encoding":{"y":{"field":"ciu","type":"quantitative"},"x2":{"field":"g"},"y2":{"field":"mean"}}},
  {"mark":{"type":"rule","color":"#3b3bdc","strokeWidth":1.2,"xOffset":11},"encoding":{"y":{"field":"mean","type":"quantitative"},"x2":{"field":"g"},"y2":{"field":"cil"}}},
  {"mark":{"type":"rule","color":"#3b3bdc","strokeWidth":1.2,"x2Offset":-11},"encoding":{"y":{"field":"cil","type":"quantitative"},"x2":{"field":"g"},"y2":{"field":"mean"}}},
  {"mark":{"type":"rule","color":"#3b3bdc","strokeWidth":1.2,"xOffset":-11,"x2Offset":11},"encoding":{"x2":{"field":"g"},"y":{"field":"mean","type":"quantitative"}}},
  {"data":{"name":"o4"},"mark":{"type":"square","size":6,"color":"#5cc3e8","opacity":1},"encoding":{"y":{"field":"v","type":"quantitative"}}}
 ]}
]
}
